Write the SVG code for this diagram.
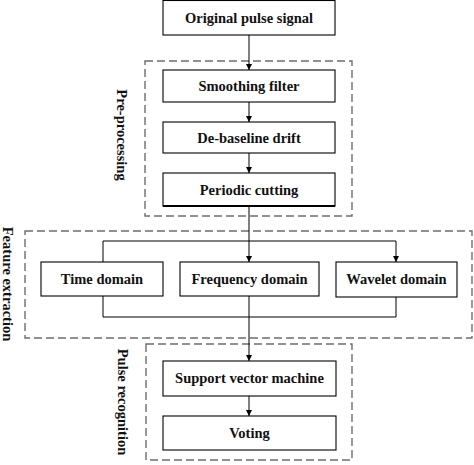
<svg xmlns="http://www.w3.org/2000/svg" width="474" height="465" viewBox="0 0 474 465">
<defs>
<marker id="ah" viewBox="0 0 10 10" refX="10" refY="5" markerWidth="6" markerHeight="6" markerUnits="userSpaceOnUse" orient="auto">
<path d="M0,0 L10,5 L0,10 z" fill="#000"/>
</marker>
<style>
.box{fill:#fff;stroke:#000;stroke-width:1.1}
.grp{fill:none;stroke:#6e6e6e;stroke-width:1.4;stroke-dasharray:8,4}
.t{font-family:"Liberation Serif","Times New Roman",serif;font-weight:bold;font-size:14.5px;fill:#111;text-anchor:middle}
.ln{fill:none;stroke:#000;stroke-width:1}
</style>
</defs>
<rect width="474" height="465" fill="#fff"/>
<g id="group-preprocessing">
<rect class="grp" x="145" y="61" width="207" height="155"/>
<text class="t" transform="translate(122,135) rotate(90)" dominant-baseline="central">Pre-processing</text>
</g>
<g id="group-feature">
<rect class="grp" x="25" y="231" width="447" height="107"/>
<text class="t" transform="translate(8,284) rotate(90)" dominant-baseline="central">Feature extraction</text>
</g>
<g id="group-recognition">
<rect class="grp" x="146" y="344" width="206" height="116"/>
<text class="t" transform="translate(123,402) rotate(90)" dominant-baseline="central">Pulse recognition</text>
</g>
<g id="connectors">
<line class="ln" x1="249" y1="35" x2="249" y2="70" marker-end="url(#ah)"/>
<line class="ln" x1="249" y1="102" x2="249" y2="122" marker-end="url(#ah)"/>
<line class="ln" x1="249" y1="153" x2="249" y2="173" marker-end="url(#ah)"/>
<line class="ln" x1="249" y1="206" x2="249" y2="241"/>
<polyline class="ln" points="103,262 103,241 396,241 396,262" marker-start="url(#ah)" marker-end="url(#ah)"/>
<line class="ln" x1="249" y1="241" x2="249" y2="262" marker-end="url(#ah)"/>
<polyline class="ln" points="103,296 103,317 396,317 396,297"/>
<line class="ln" x1="249" y1="296" x2="249" y2="361" marker-end="url(#ah)"/>
<line class="ln" x1="249" y1="396" x2="249" y2="416" marker-end="url(#ah)"/>
</g>
<g id="node-original">
<rect class="box" x="163" y="0.5" width="172" height="34.5"/>
<text class="t" x="249" y="23">Original pulse signal</text>
</g>
<g id="node-smoothing">
<rect class="box" x="163" y="70" width="172" height="32"/>
<text class="t" x="249" y="91">Smoothing filter</text>
</g>
<g id="node-debaseline">
<rect class="box" x="163" y="122" width="172" height="31"/>
<text class="t" x="249" y="142.5">De-baseline drift</text>
</g>
<g id="node-periodic">
<rect class="box" x="163" y="173" width="172" height="33"/>
<line x1="163" y1="206" x2="335" y2="206" stroke="#000" stroke-width="2"/>
<text class="t" x="249" y="194.5">Periodic cutting</text>
</g>
<g id="node-time">
<rect class="box" x="41" y="262" width="122" height="34"/>
<text class="t" x="102" y="284">Time domain</text>
</g>
<g id="node-frequency">
<rect class="box" x="180" y="262" width="139" height="34"/>
<text class="t" x="249.5" y="284">Frequency domain</text>
</g>
<g id="node-wavelet">
<rect class="box" x="336" y="262" width="121" height="35"/>
<text class="t" x="396.5" y="284">Wavelet domain</text>
</g>
<g id="node-svm">
<rect class="box" x="163" y="361" width="173" height="35"/>
<text class="t" x="249.5" y="383">Support vector machine</text>
</g>
<g id="node-voting">
<rect class="box" x="163" y="416" width="173" height="34"/>
<text class="t" x="249.5" y="438">Voting</text>
</g>
</svg>
